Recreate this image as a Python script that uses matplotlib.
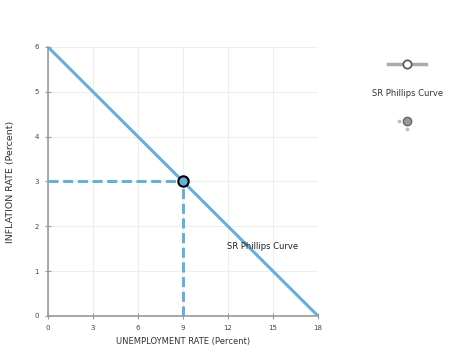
import numpy as np
import matplotlib.pyplot as plt
from matplotlib.lines import Line2D

# --- Data ---
curve_x = [0, 18]
curve_y = [6, 0]
point_x = 9
point_y = 3
x_ticks = [0, 3, 6, 9, 12, 15, 18]
y_ticks = [0, 1, 2, 3, 4, 5, 6]
curve_label = "SR Phillips Curve"

blue = '#6aadd5'
axis_grey = '#999999'

fig = plt.figure(figsize=(4.74, 3.56), dpi=100)
ax = fig.add_axes([0.1013, 0.1124, 0.5696, 0.7556])

ax.set_xlim(0, 18)
ax.set_ylim(0, 6)
ax.set_xticks(x_ticks)
ax.set_yticks(y_ticks)
ax.grid(True, color='#eeeeee', linewidth=0.8)
ax.set_axisbelow(True)

for side in ['top', 'right']:
    ax.spines[side].set_visible(False)
for side in ['bottom', 'left']:
    ax.spines[side].set_color(axis_grey)
    ax.spines[side].set_linewidth(1.2)
ax.tick_params(direction='inout', length=5, width=0.8, color=axis_grey,
               labelsize=5, labelcolor='#444444', pad=4)

# curve
ax.plot(curve_x, curve_y, color=blue, linewidth=2.2, solid_capstyle='round', zorder=3)

# dashed guides
ax.plot([0, point_x], [point_y, point_y], color=blue, linewidth=2.2,
        linestyle=(0, (3.3, 1.5)), zorder=3)
ax.plot([point_x, point_x], [0, point_y], color=blue, linewidth=2.2,
        linestyle=(0, (3.3, 1.5)), zorder=3)

# point
ax.plot([point_x], [point_y], marker='o', markersize=7.5, markerfacecolor=blue,
        markeredgecolor='black', markeredgewidth=1.5, zorder=5, clip_on=False)

ax.text(14.3, 1.54, curve_label, fontsize=6, color='#222222', ha='center', va='center')

ax.set_xlabel('UNEMPLOYMENT RATE (Percent)', fontsize=6, color='#333333', labelpad=4)
ax.set_ylabel('INFLATION RATE (Percent)', fontsize=6.8, color='#333333', labelpad=14)

# palette icons on the right
fig.add_artist(Line2D([388/474, 426/474], [1 - 64/356, 1 - 64/356], color='#aaaaaa',
                      linewidth=2.5, transform=fig.transFigure))
fig.add_artist(Line2D([407/474], [1 - 64/356], marker='o', markersize=6,
                      markerfacecolor='white', markeredgecolor='#555555',
                      markeredgewidth=1.2, transform=fig.transFigure))
fig.text(408/474, 1 - 93/356, curve_label, fontsize=6, color='#333333',
         ha='center', va='center')
fig.add_artist(Line2D([407/474], [1 - 121/356], marker='o', markersize=6,
                      markerfacecolor='#999999', markeredgecolor='#666666',
                      markeredgewidth=1, transform=fig.transFigure))
fig.add_artist(Line2D([399/474], [1 - 121/356], marker='s', markersize=1.5,
                      color='#bbbbbb', linestyle='none', transform=fig.transFigure))
fig.add_artist(Line2D([407/474], [1 - 129/356], marker='s', markersize=1.5,
                      color='#bbbbbb', linestyle='none', transform=fig.transFigure))

fig.savefig('out.png', dpi=100)
